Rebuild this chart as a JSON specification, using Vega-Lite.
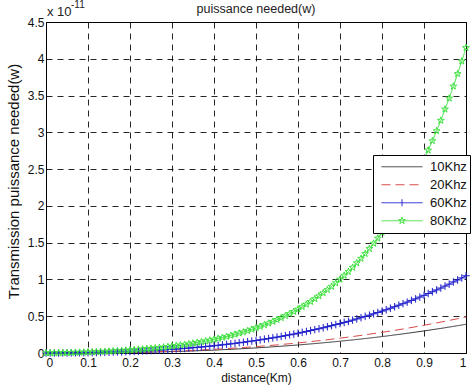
{
  "$schema": "https://vega.github.io/schema/vega-lite/v6.json",
  "width": 420,
  "height": 331,
  "autosize": {"type": "none"},
  "padding": {"left": 46, "top": 22, "right": 8, "bottom": 37},
  "background": "white",
  "config": {
    "font": "Liberation Sans",
    "view": {"stroke": "#000", "strokeWidth": 1},
    "axis": {
      "domain": false,
      "ticks": false,
      "grid": true,
      "gridColor": "#000",
      "gridDash": [6, 5],
      "gridWidth": 1,
      "gridOpacity": 0.85,
      "labelFont": "Liberation Sans",
      "labelFontSize": 12,
      "labelColor": "#111",
      "labelOverlap": false,
      "titleFont": "Liberation Sans",
      "titleFontWeight": "normal",
      "titleColor": "#111"
    },
    "axisX": {"titleFontSize": 12, "labelPadding": 4, "titlePadding": 4},
    "axisY": {"titleFontSize": 15, "labelPadding": 2, "titlePadding": 6, "titleY": 159}
  },
  "datasets": {
    "coarse": [
      {"d": 0, "10Khz": 0, "20Khz": 0},
      {"d": 0.05, "10Khz": 0.000, "20Khz": 0.000},
      {"d": 0.1, "10Khz": 0.001, "20Khz": 0.002},
      {"d": 0.15, "10Khz": 0.003, "20Khz": 0.004},
      {"d": 0.2, "10Khz": 0.007, "20Khz": 0.009},
      {"d": 0.25, "10Khz": 0.012, "20Khz": 0.015},
      {"d": 0.3, "10Khz": 0.019, "20Khz": 0.024},
      {"d": 0.35, "10Khz": 0.028, "20Khz": 0.036},
      {"d": 0.4, "10Khz": 0.039, "20Khz": 0.050},
      {"d": 0.45, "10Khz": 0.053, "20Khz": 0.067},
      {"d": 0.5, "10Khz": 0.069, "20Khz": 0.087},
      {"d": 0.55, "10Khz": 0.088, "20Khz": 0.110},
      {"d": 0.6, "10Khz": 0.109, "20Khz": 0.137},
      {"d": 0.65, "10Khz": 0.133, "20Khz": 0.167},
      {"d": 0.7, "10Khz": 0.160, "20Khz": 0.201},
      {"d": 0.75, "10Khz": 0.190, "20Khz": 0.239},
      {"d": 0.8, "10Khz": 0.223, "20Khz": 0.281},
      {"d": 0.85, "10Khz": 0.260, "20Khz": 0.326},
      {"d": 0.9, "10Khz": 0.300, "20Khz": 0.377},
      {"d": 0.95, "10Khz": 0.343, "20Khz": 0.431},
      {"d": 1.0, "10Khz": 0.390, "20Khz": 0.490}
    ],
    "fine": [
      {"d": 0.00, "60Khz": 0.000, "80Khz": 0.000},
      {"d": 0.01, "60Khz": 0.000, "80Khz": 0.000},
      {"d": 0.02, "60Khz": 0.000, "80Khz": 0.001},
      {"d": 0.03, "60Khz": 0.000, "80Khz": 0.002},
      {"d": 0.04, "60Khz": 0.001, "80Khz": 0.003},
      {"d": 0.05, "60Khz": 0.001, "80Khz": 0.004},
      {"d": 0.06, "60Khz": 0.001, "80Khz": 0.005},
      {"d": 0.07, "60Khz": 0.002, "80Khz": 0.007},
      {"d": 0.08, "60Khz": 0.003, "80Khz": 0.008},
      {"d": 0.09, "60Khz": 0.003, "80Khz": 0.010},
      {"d": 0.10, "60Khz": 0.004, "80Khz": 0.011},
      {"d": 0.11, "60Khz": 0.005, "80Khz": 0.013},
      {"d": 0.12, "60Khz": 0.006, "80Khz": 0.016},
      {"d": 0.13, "60Khz": 0.007, "80Khz": 0.018},
      {"d": 0.14, "60Khz": 0.009, "80Khz": 0.020},
      {"d": 0.15, "60Khz": 0.010, "80Khz": 0.023},
      {"d": 0.16, "60Khz": 0.012, "80Khz": 0.026},
      {"d": 0.17, "60Khz": 0.014, "80Khz": 0.029},
      {"d": 0.18, "60Khz": 0.015, "80Khz": 0.032},
      {"d": 0.19, "60Khz": 0.017, "80Khz": 0.036},
      {"d": 0.20, "60Khz": 0.020, "80Khz": 0.039},
      {"d": 0.21, "60Khz": 0.022, "80Khz": 0.043},
      {"d": 0.22, "60Khz": 0.024, "80Khz": 0.048},
      {"d": 0.23, "60Khz": 0.027, "80Khz": 0.052},
      {"d": 0.24, "60Khz": 0.030, "80Khz": 0.057},
      {"d": 0.25, "60Khz": 0.033, "80Khz": 0.062},
      {"d": 0.26, "60Khz": 0.036, "80Khz": 0.067},
      {"d": 0.27, "60Khz": 0.039, "80Khz": 0.073},
      {"d": 0.28, "60Khz": 0.043, "80Khz": 0.079},
      {"d": 0.29, "60Khz": 0.046, "80Khz": 0.085},
      {"d": 0.30, "60Khz": 0.050, "80Khz": 0.092},
      {"d": 0.31, "60Khz": 0.054, "80Khz": 0.099},
      {"d": 0.32, "60Khz": 0.058, "80Khz": 0.107},
      {"d": 0.33, "60Khz": 0.062, "80Khz": 0.115},
      {"d": 0.34, "60Khz": 0.067, "80Khz": 0.123},
      {"d": 0.35, "60Khz": 0.072, "80Khz": 0.132},
      {"d": 0.36, "60Khz": 0.077, "80Khz": 0.142},
      {"d": 0.37, "60Khz": 0.082, "80Khz": 0.152},
      {"d": 0.38, "60Khz": 0.087, "80Khz": 0.162},
      {"d": 0.39, "60Khz": 0.093, "80Khz": 0.173},
      {"d": 0.40, "60Khz": 0.099, "80Khz": 0.185},
      {"d": 0.41, "60Khz": 0.105, "80Khz": 0.197},
      {"d": 0.42, "60Khz": 0.111, "80Khz": 0.210},
      {"d": 0.43, "60Khz": 0.118, "80Khz": 0.224},
      {"d": 0.44, "60Khz": 0.124, "80Khz": 0.238},
      {"d": 0.45, "60Khz": 0.131, "80Khz": 0.253},
      {"d": 0.46, "60Khz": 0.139, "80Khz": 0.269},
      {"d": 0.47, "60Khz": 0.146, "80Khz": 0.285},
      {"d": 0.48, "60Khz": 0.154, "80Khz": 0.303},
      {"d": 0.49, "60Khz": 0.162, "80Khz": 0.321},
      {"d": 0.50, "60Khz": 0.170, "80Khz": 0.341},
      {"d": 0.51, "60Khz": 0.179, "80Khz": 0.361},
      {"d": 0.52, "60Khz": 0.188, "80Khz": 0.382},
      {"d": 0.53, "60Khz": 0.197, "80Khz": 0.405},
      {"d": 0.54, "60Khz": 0.206, "80Khz": 0.428},
      {"d": 0.55, "60Khz": 0.216, "80Khz": 0.453},
      {"d": 0.56, "60Khz": 0.226, "80Khz": 0.478},
      {"d": 0.57, "60Khz": 0.236, "80Khz": 0.506},
      {"d": 0.58, "60Khz": 0.247, "80Khz": 0.534},
      {"d": 0.59, "60Khz": 0.257, "80Khz": 0.563},
      {"d": 0.60, "60Khz": 0.269, "80Khz": 0.595},
      {"d": 0.61, "60Khz": 0.281, "80Khz": 0.628},
      {"d": 0.62, "60Khz": 0.293, "80Khz": 0.662},
      {"d": 0.63, "60Khz": 0.305, "80Khz": 0.698},
      {"d": 0.64, "60Khz": 0.318, "80Khz": 0.736},
      {"d": 0.65, "60Khz": 0.330, "80Khz": 0.775},
      {"d": 0.66, "60Khz": 0.343, "80Khz": 0.816},
      {"d": 0.67, "60Khz": 0.357, "80Khz": 0.860},
      {"d": 0.68, "60Khz": 0.371, "80Khz": 0.904},
      {"d": 0.69, "60Khz": 0.386, "80Khz": 0.951},
      {"d": 0.70, "60Khz": 0.400, "80Khz": 1.001},
      {"d": 0.71, "60Khz": 0.416, "80Khz": 1.054},
      {"d": 0.72, "60Khz": 0.430, "80Khz": 1.106},
      {"d": 0.73, "60Khz": 0.447, "80Khz": 1.163},
      {"d": 0.74, "60Khz": 0.463, "80Khz": 1.224},
      {"d": 0.75, "60Khz": 0.480, "80Khz": 1.285},
      {"d": 0.76, "60Khz": 0.498, "80Khz": 1.350},
      {"d": 0.77, "60Khz": 0.514, "80Khz": 1.418},
      {"d": 0.78, "60Khz": 0.533, "80Khz": 1.490},
      {"d": 0.79, "60Khz": 0.551, "80Khz": 1.560},
      {"d": 0.80, "60Khz": 0.570, "80Khz": 1.640},
      {"d": 0.81, "60Khz": 0.588, "80Khz": 1.719},
      {"d": 0.82, "60Khz": 0.609, "80Khz": 1.806},
      {"d": 0.83, "60Khz": 0.629, "80Khz": 1.893},
      {"d": 0.84, "60Khz": 0.650, "80Khz": 1.986},
      {"d": 0.85, "60Khz": 0.670, "80Khz": 2.081},
      {"d": 0.86, "60Khz": 0.692, "80Khz": 2.181},
      {"d": 0.87, "60Khz": 0.715, "80Khz": 2.289},
      {"d": 0.88, "60Khz": 0.736, "80Khz": 2.396},
      {"d": 0.89, "60Khz": 0.760, "80Khz": 2.509},
      {"d": 0.90, "60Khz": 0.784, "80Khz": 2.630},
      {"d": 0.91, "60Khz": 0.809, "80Khz": 2.757},
      {"d": 0.92, "60Khz": 0.833, "80Khz": 2.884},
      {"d": 0.93, "60Khz": 0.857, "80Khz": 3.019},
      {"d": 0.94, "60Khz": 0.883, "80Khz": 3.161},
      {"d": 0.95, "60Khz": 0.910, "80Khz": 3.313},
      {"d": 0.96, "60Khz": 0.936, "80Khz": 3.463},
      {"d": 0.97, "60Khz": 0.966, "80Khz": 3.626},
      {"d": 0.98, "60Khz": 0.993, "80Khz": 3.796},
      {"d": 0.99, "60Khz": 1.021, "80Khz": 3.967},
      {"d": 1.00, "60Khz": 1.050, "80Khz": 4.150}
    ]
  },
  "layer": [
    {
      "data": {"name": "coarse"},
      "transform": [{"fold": ["10Khz", "20Khz"], "as": ["series", "v"]}],
      "mark": {"type": "line", "strokeWidth": 1},
      "encoding": {
        "x": {"field": "d", "type": "quantitative", "scale": {"domain": [0, 1], "nice": false},
          "axis": {"values": [0, 0.1, 0.2, 0.3, 0.4, 0.5, 0.6, 0.7, 0.8, 0.9, 1], "format": "~g", "title": "distance(Km)"}},
        "y": {"field": "v", "type": "quantitative", "scale": {"domain": [0, 4.5], "nice": false},
          "axis": {"values": [0, 0.5, 1, 1.5, 2, 2.5, 3, 3.5, 4, 4.5], "format": "~g", "title": "Transmission puissance needed(w)"}},
        "color": {"field": "series", "type": "nominal",
          "scale": {"domain": ["10Khz", "20Khz", "60Khz", "80Khz"], "range": ["#333333", "#d94a4a", "#1f1fcc", "#3ee03e"]},
          "legend": {"title": null, "orient": "none", "legendX": 327, "legendY": 133,
            "symbolType": "M-1,0H1", "symbolSize": 1681, "symbolStrokeWidth": 1,
            "labelFontSize": 13, "labelFont": "Liberation Sans", "labelColor": "#111",
            "strokeColor": "#000", "fillColor": "white", "padding": 3,
            "clipHeight": 17.5, "rowPadding": 0, "symbolOffset": 5, "labelOffset": 7,
            "encoding": {"symbols": {"shape": {"value": {"expr": "datum.value === '60Khz' ? 'M-1,0H1M0,-0.17V0.17' : (datum.value === '80Khz' ? 'M-1,0H1M0,-0.18L0.041,-0.057L0.171,-0.056L0.067,0.022L0.106,0.146L0,0.07L-0.106,0.146L-0.067,0.022L-0.171,-0.056L-0.041,-0.057Z' : 'M-1,0H1')"}}}}}},
        "strokeDash": {"field": "series", "type": "nominal",
          "scale": {"domain": ["10Khz", "20Khz", "60Khz", "80Khz"], "range": [[1, 0], [9, 5], [1, 0], [1, 0]]},
          "legend": {"title": null, "orient": "none", "legendX": 327, "legendY": 133,
            "symbolType": "M-1,0H1", "symbolSize": 1681, "symbolStrokeWidth": 1,
            "labelFontSize": 13, "labelFont": "Liberation Sans", "labelColor": "#111",
            "strokeColor": "#000", "fillColor": "white", "padding": 3,
            "clipHeight": 17.5, "rowPadding": 0, "symbolOffset": 5, "labelOffset": 7,
            "encoding": {"symbols": {"shape": {"value": {"expr": "datum.value === '60Khz' ? 'M-1,0H1M0,-0.17V0.17' : (datum.value === '80Khz' ? 'M-1,0H1M0,-0.18L0.041,-0.057L0.171,-0.056L0.067,0.022L0.106,0.146L0,0.07L-0.106,0.146L-0.067,0.022L-0.171,-0.056L-0.041,-0.057Z' : 'M-1,0H1')"}}}}}}
      }
    },
    {
      "data": {"name": "fine"},
      "transform": [{"fold": ["60Khz", "80Khz"], "as": ["series", "v"]}],
      "mark": {"type": "line", "strokeWidth": 1},
      "encoding": {
        "x": {"field": "d", "type": "quantitative",
          "axis": {"values": [0, 0.1, 0.2, 0.3, 0.4, 0.5, 0.6, 0.7, 0.8, 0.9, 1], "format": "~g", "title": "distance(Km)"}},
        "y": {"field": "v", "type": "quantitative",
          "axis": {"values": [0, 0.5, 1, 1.5, 2, 2.5, 3, 3.5, 4, 4.5], "format": "~g", "title": "Transmission puissance needed(w)"}},
        "color": {"field": "series", "type": "nominal"},
        "strokeDash": {"field": "series", "type": "nominal"}
      }
    },
    {
      "data": {"name": "fine"},
      "mark": {"type": "point", "shape": "M-1,0H1M0,-1V1", "size": 56, "filled": false, "stroke": "#1f1fcc", "strokeWidth": 1, "opacity": 1},
      "encoding": {
        "x": {"field": "d", "type": "quantitative",
          "axis": {"values": [0, 0.1, 0.2, 0.3, 0.4, 0.5, 0.6, 0.7, 0.8, 0.9, 1], "format": "~g", "title": "distance(Km)"}},
        "y": {"field": "60Khz", "type": "quantitative",
          "axis": {"values": [0, 0.5, 1, 1.5, 2, 2.5, 3, 3.5, 4, 4.5], "format": "~g", "title": "Transmission puissance needed(w)"}}
      }
    },
    {
      "data": {"name": "fine"},
      "mark": {"type": "point", "shape": "M0,-1L0.235,-0.324L0.951,-0.309L0.38,0.124L0.588,0.809L0,0.4L-0.588,0.809L-0.38,0.124L-0.951,-0.309L-0.235,-0.324Z", "size": 50, "filled": false, "stroke": "#3ee03e", "strokeWidth": 1, "opacity": 1},
      "encoding": {
        "x": {"field": "d", "type": "quantitative",
          "axis": {"values": [0, 0.1, 0.2, 0.3, 0.4, 0.5, 0.6, 0.7, 0.8, 0.9, 1], "format": "~g", "title": "distance(Km)"}},
        "y": {"field": "80Khz", "type": "quantitative",
          "axis": {"values": [0, 0.5, 1, 1.5, 2, 2.5, 3, 3.5, 4, 4.5], "format": "~g", "title": "Transmission puissance needed(w)"}}
      }
    },
    {
      "data": {"values": [{"t": "puissance needed(w)", "px": 0.5, "py": 4.5}]},
      "mark": {"type": "text", "align": "center", "baseline": "alphabetic", "dy": -9, "fontSize": 12.5, "font": "Liberation Sans", "color": "#222"},
      "encoding": {
        "x": {"field": "px", "type": "quantitative",
          "axis": {"values": [0, 0.1, 0.2, 0.3, 0.4, 0.5, 0.6, 0.7, 0.8, 0.9, 1], "format": "~g", "title": "distance(Km)"}},
        "y": {"field": "py", "type": "quantitative",
          "axis": {"values": [0, 0.5, 1, 1.5, 2, 2.5, 3, 3.5, 4, 4.5], "format": "~g", "title": "Transmission puissance needed(w)"}},
        "text": {"field": "t"}
      }
    },
    {
      "data": {"values": [{"t": "x 10", "px": 0, "py": 4.5}]},
      "mark": {"type": "text", "align": "left", "baseline": "alphabetic", "dx": 1, "dy": -6, "fontSize": 13, "font": "Liberation Sans", "color": "#222"},
      "encoding": {
        "x": {"field": "px", "type": "quantitative",
          "axis": {"values": [0, 0.1, 0.2, 0.3, 0.4, 0.5, 0.6, 0.7, 0.8, 0.9, 1], "format": "~g", "title": "distance(Km)"}},
        "y": {"field": "py", "type": "quantitative",
          "axis": {"values": [0, 0.5, 1, 1.5, 2, 2.5, 3, 3.5, 4, 4.5], "format": "~g", "title": "Transmission puissance needed(w)"}},
        "text": {"field": "t"}
      }
    },
    {
      "data": {"values": [{"t": "-11", "px": 0, "py": 4.5}]},
      "mark": {"type": "text", "align": "left", "baseline": "alphabetic", "dx": 25, "dy": -14, "fontSize": 10, "font": "Liberation Sans", "color": "#222"},
      "encoding": {
        "x": {"field": "px", "type": "quantitative",
          "axis": {"values": [0, 0.1, 0.2, 0.3, 0.4, 0.5, 0.6, 0.7, 0.8, 0.9, 1], "format": "~g", "title": "distance(Km)"}},
        "y": {"field": "py", "type": "quantitative",
          "axis": {"values": [0, 0.5, 1, 1.5, 2, 2.5, 3, 3.5, 4, 4.5], "format": "~g", "title": "Transmission puissance needed(w)"}},
        "text": {"field": "t"}
      }
    }
  ]
}
